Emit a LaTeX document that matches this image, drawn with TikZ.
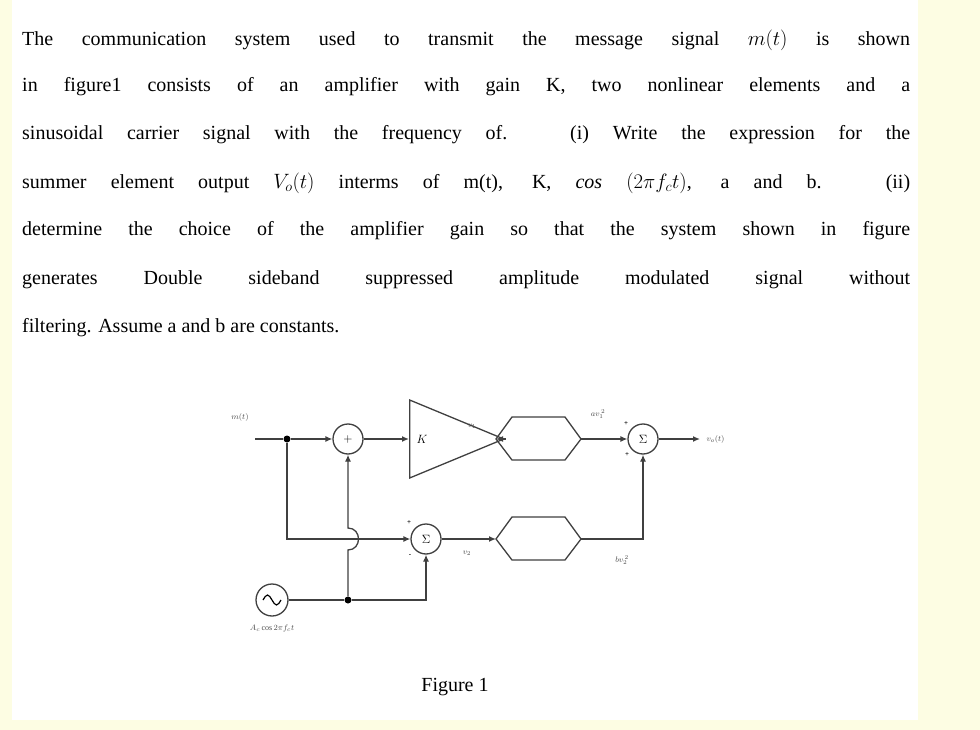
\documentclass[tikz,border=0pt]{standalone}
\usepackage{fontspec}
\setmainfont{Liberation Serif}
\usetikzlibrary{arrows.meta,shapes.geometric}
\definecolor{bgy}{HTML}{FDFDE3}
\begin{document}
\begin{tikzpicture}[x=1pt,y=-1pt,
  wire/.style={line width=1.3pt,draw=black!75},
  arr/.style={wire,-{Latex[length=7pt,width=6pt]}},
  sumc/.style={circle,draw=black!75,line width=1.3pt,minimum size=30pt,inner sep=0pt,font=\large},
  hexa/.style={draw=black!75,line width=1.3pt},
  dotn/.style={circle,fill=black,inner sep=0pt,minimum size=7pt},
  lbl/.style={font=\footnotesize\itshape\bfseries,text=black!70},
  txt/.style={anchor=west,inner sep=0pt,font=\fontsize{20}{24}\selectfont}]
\fill[bgy] (0,0) rectangle (980,730);
\fill[white] (12,0) rectangle (918,720);
\foreach \y/\t in {40/{The communication system used to transmit the message signal $m(t)$ is shown},
 87/{in figure1 consists of an amplifier with gain K, two nonlinear elements and a},
 135/{sinusoidal carrier signal with the frequency of. (i) Write the expression for the},
 183/{summer element output $V_o(t)$ interms of m(t), K, $\mathit{cos}\ (2\pi f_c t)$, a and b. (ii)},
 231/{determine the choice of the amplifier gain so that the system shown in figure},
 280/{generates Double sideband suppressed amplitude modulated signal without}}
 \node[txt] at (22,\y) {\makebox[888pt][s]{\t}};
\node[txt] (lastline) at (22,328) {filtering. Assume a and b are constants.};
\node[font=\fontsize{20}{24}\selectfont] (cap) at (455,687) {Figure 1};
% diagram
\coordinate (min) at (255,439);
\node[lbl,anchor=south] (ml) at (240,425) {$m(t)$};
\node[dotn] (d1) at (287,439) {};
\node[sumc] (plus) at (348,439) {$+$};
\node[isosceles triangle,draw=black!75,line width=1.3pt,minimum height=46pt,minimum width=78pt,inner sep=0pt,anchor=west] (K) at (409,439) {};
\node[font=\large\itshape] at (422,439) {$K$};
\node[lbl] (v1) at (472,426) {$v_1$};
\draw[hexa] (496,439) -- (512,417) -- (565,417) -- (581,439) -- (565,460) -- (512,460) -- cycle;
\coordinate (h1in) at (496,439); \coordinate (h1out) at (581,439);
\node[lbl] (a1) at (598,414) {$av_1^{\,2}$};
\node[sumc] (s1) at (643,439) {$\Sigma$};
\coordinate (out) at (700,439);
\node[lbl,anchor=west] (vo) at (703,439) {$v_o(t)$};
\node[sumc] (s2) at (426,539) {$\Sigma$};
\node[lbl] (v2) at (467,553) {$v_2$};
\draw[hexa] (496,539) -- (512,517) -- (565,517) -- (581,539) -- (565,560) -- (512,560) -- cycle;
\coordinate (h2in) at (496,539); \coordinate (h2out) at (581,539);
\node[lbl] (b2) at (622,560) {$bv_2^{\,2}$};
\node[circle,draw=black!75,line width=1.3pt,minimum size=32pt,inner sep=0pt] (osc) at (272,600) {};
\node[lbl] (ol) at (272,628) {$A_c\cos 2\pi f_c t$};
\node[dotn] (d2) at (348,600) {};
% signs
\node[font=\scriptsize\bfseries] at (626,424) {+};
\node[font=\scriptsize\bfseries] at (627,455) {+};
\node[font=\scriptsize\bfseries] at (409,523) {+};
\node[font=\scriptsize\bfseries] at (410,556) {-};
% wires
\draw[wire] (min) -- (d1);
\draw[arr] (d1) -- (plus);
\draw[arr] (plus) -- (K.west);
\draw[arr] (K.east) -- (h1in);
\draw[arr] (h1out) -- (s1);
\draw[arr] (s1) -- (out);
\draw[arr] (d1) |- (s2);
\draw[arr] (s2) -- (h2in);
\draw[arr] (h2out) -| (s1);
\draw[wire] (osc) -- (d2);
\draw[arr] (d2) -| (s2);
\draw[arr] (d2) -- (348,550) .. controls (362,550) and (362,528) .. (348,528) -- (plus);
\draw[line width=1.2pt] (263,600) sin (267.5,595) cos (272,600) sin (276.5,605) cos (281,600);
\end{tikzpicture}
\end{document}
